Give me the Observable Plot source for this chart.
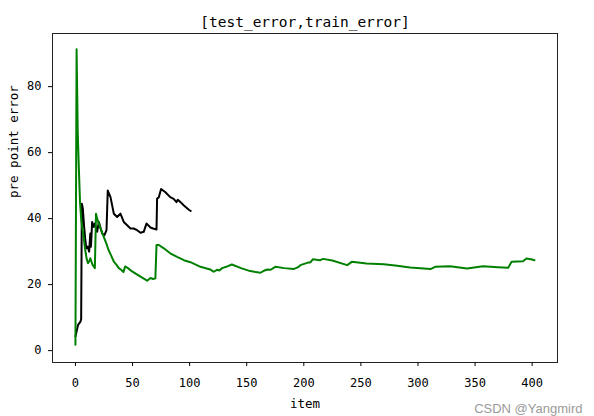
<!DOCTYPE html>
<html><head><meta charset="utf-8">
<script src="https://cdn.jsdelivr.net/npm/d3@7"></script>
<script src="https://cdn.jsdelivr.net/npm/@observablehq/plot@0.6"></script>
<style>body{margin:0;background:#fff} svg{display:block}</style>
</head><body><div id="chart"></div>
<script>
const testItem  = [0, 2.3, 4.4, 5.0, 5.6, 6.5, 7.5, 8.5, 9.5, 10.8, 12, 13, 13.6, 14.6, 16, 17, 19, 20.5, 23.4, 25.4, 27.2, 28.3, 30.7, 33.6, 36.5, 39.4, 42.3, 45.3, 48.2, 51, 54, 57, 59.8, 62.2, 65.7, 68, 71, 71.5, 73, 75, 78.8, 83, 86, 88.5, 89.6, 92, 95, 99.3, 101];
const testError = [4.3, 7.8, 8.8, 9.5, 44.5, 43, 38, 34, 31, 31.5, 30, 35.5, 31.5, 39, 37.5, 38.5, 36, 39, 35.5, 35, 36.5, 48.5, 46.5, 41.5, 40.5, 41.5, 39, 38, 37, 37, 36.5, 35.7, 36, 38.5, 37.3, 37, 36.7, 46, 46.5, 49, 48, 46.5, 46, 45, 45.7, 45, 44, 42.7, 42.3];

const trainItem  = [0, 1, 2, 3, 4, 5, 6, 7, 8, 9, 10, 11, 12, 13, 14, 15, 16, 17, 18, 19, 20.5, 22, 24.8, 27, 29, 31, 33.6, 36, 38, 40, 42, 43.5, 46, 48, 52, 57, 62.8, 65.7, 68, 70, 71, 73, 77.4, 83, 89, 95, 100.7, 109.5, 118, 121, 124, 126, 128.5, 132, 137, 145, 153, 162, 165, 168, 171, 175, 183, 191, 195, 197, 203, 206, 208, 214, 217, 225, 238, 242, 255, 270, 280, 293, 305, 311, 315, 328, 343, 357, 370, 379, 382, 392, 395, 400, 402];
const trainError = [1.8, 91.3, 66, 55, 45, 40, 37, 35, 32, 29.5, 27.5, 26.5, 27, 28, 27, 26, 25.5, 25, 41.5, 40, 38.5, 37, 34.5, 32.5, 30.5, 29, 27, 26, 25, 24.5, 23.8, 25.5, 25, 24.4, 23.5, 22.4, 21.2, 22, 21.7, 21.9, 32, 32, 31, 29.5, 28.4, 27.4, 26.8, 25.4, 24.6, 23.9, 24.5, 24.3, 25, 25.4, 26.1, 25, 24.1, 23.6, 24.2, 24.6, 24.5, 25.4, 25, 24.7, 25.3, 25.9, 26.6, 26.8, 27.7, 27.4, 27.8, 27.3, 25.9, 26.9, 26.4, 26.2, 25.8, 25.2, 24.9, 24.7, 25.4, 25.6, 24.9, 25.6, 25.3, 25.1, 26.9, 27.1, 27.9, 27.6, 27.4];

const xTicks = [0, 50, 100, 150, 200, 250, 300, 350, 400];
const yTicks = [0, 20, 40, 60, 80];
const titleText = "[test_error,train_error]";
const xLabel = "item";
const yLabel = "pre point error";
const watermark = "CSDN @Yangmird";

const mono = "'DejaVu Sans Mono', monospace";
const chart = Plot.plot({
  width: 594, height: 416,
  marginTop: 33, marginRight: 37, marginBottom: 54, marginLeft: 52,
  style: {fontFamily: mono, fontSize: "12px", color: "#000", background: "#fff", overflow: "visible"},
  x: {domain: [-20.1, 422.2]},
  y: {domain: [-3.6, 96.1]},
  marks: [
    Plot.lineY(testError, {x: testItem, stroke: "#000", strokeWidth: 2}),
    Plot.lineY(trainError, {x: trainItem, stroke: "#008000", strokeWidth: 2}),
    Plot.frame({stroke: "#222", strokeWidth: 1}),
    Plot.axisX({ticks: xTicks, tickSize: 4, tickPadding: 12, label: null, fontSize: 12}),
    Plot.axisY({ticks: yTicks, tickSize: 4, tickPadding: 7, label: null, fontSize: 12}),
    Plot.text([titleText], {frameAnchor: "top", lineAnchor: "middle", dy: -11, fontSize: 14.5}),
    Plot.text([xLabel], {frameAnchor: "bottom", lineAnchor: "middle", dy: 41, fontSize: 12.5}),
    Plot.text([yLabel], {frameAnchor: "left", lineAnchor: "middle", dx: -39, rotate: -90, fontSize: 12.5}),
    Plot.text([watermark], {frameAnchor: "bottom-right", lineAnchor: "middle", dx: 25, dy: 46, textAnchor: "end", fill: "#9a9a9a", fontFamily: "'Liberation Sans', Arial, sans-serif", fontSize: 13})
  ]
});
document.getElementById("chart").append(chart);
</script>
</body></html>
